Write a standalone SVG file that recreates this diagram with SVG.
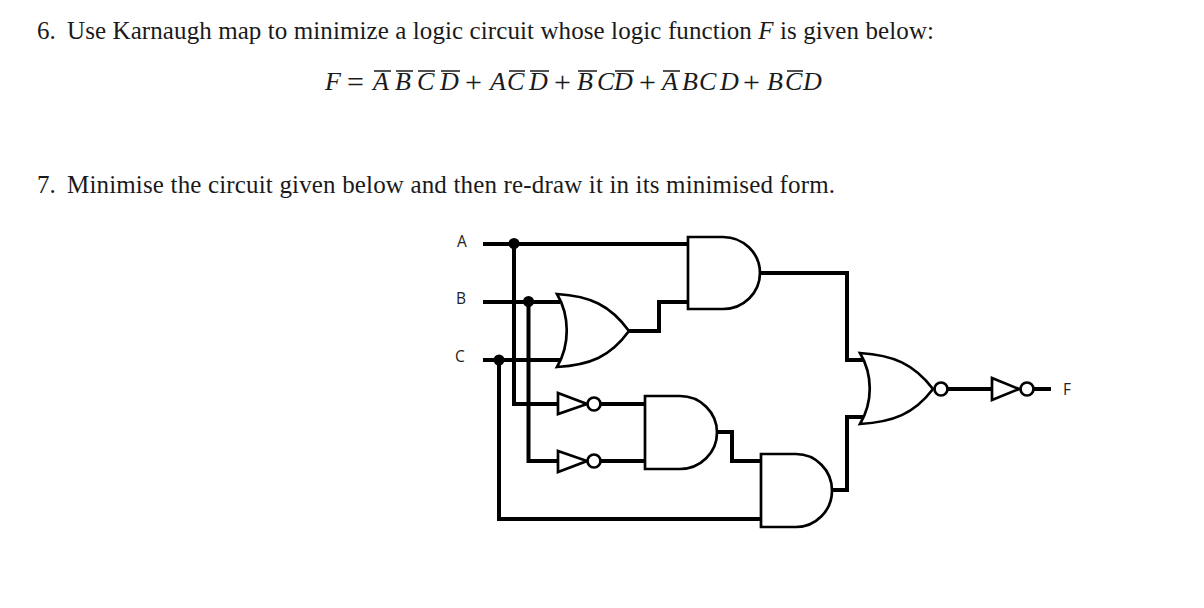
<svg xmlns="http://www.w3.org/2000/svg" width="1204" height="608" viewBox="0 0 1204 608">
<style>
.t{font-family:"Liberation Serif","Times New Roman",serif;font-size:25px;fill:#1a1a1a}
.m{font-family:"Liberation Serif","Times New Roman",serif;font-size:26px;fill:#1a1a1a}
.s{font-size:30px}
.i{font-style:italic}
.l{font-family:"Open Sans","Liberation Sans",sans-serif;font-size:15.5px;fill:#222;text-anchor:middle}
.w{fill:none;stroke:#000;stroke-width:4;stroke-linejoin:miter}
.g{fill:#fff;stroke:#000;stroke-width:2.7;stroke-linejoin:miter}
.o{stroke:#1a1a1a;stroke-width:1.3}
</style>
<rect width="1204" height="608" fill="#fff"/>
<g id="text-q6">
<text class="t" x="37" y="39">6.</text>
<text class="t" x="67" y="39" textLength="867" lengthAdjust="spacing">Use Karnaugh map to minimize a logic circuit whose logic function <tspan class="i">F</tspan> is given below:</text>
</g>
<g id="equation">
<text class="m"><tspan class="i" x="325" y="90">F</tspan><tspan class="s" x="347" y="92">=</tspan><tspan class="i" x="373 395 417 440" y="90">ABCD</tspan><tspan class="s" x="465" y="92">+</tspan><tspan class="i" x="490 507 529" y="90">ACD</tspan><tspan class="s" x="554" y="92">+</tspan><tspan class="i" x="577 597 614" y="90">BCD</tspan><tspan class="s" x="639" y="92">+</tspan><tspan class="i" x="662 682 699 720" y="90">ABCD</tspan><tspan class="s" x="743" y="92">+</tspan><tspan class="i" x="767 785 803" y="90">BCD</tspan></text>
<path class="o" d="M374 71H391M396 71H413M418 71H435M441 71H460M509 71H525M530 71H549M578 71H597M615 71H634M663 71H680M787 71H803"/>
</g>
<g id="text-q7">
<text class="t" x="37" y="193">7.</text>
<text class="t" x="67" y="193" textLength="768" lengthAdjust="spacing">Minimise the circuit given below and then re-draw it in its minimised form.</text>
</g>
<g id="connectors">
<path class="w" d="M483 244H688"/>
<path class="w" d="M483 302H560"/>
<path class="w" d="M483 360H560"/>
<path class="w" d="M514 244V404H558"/>
<path class="w" d="M528.500 302V461H558"/>
<path class="w" d="M499 360V519H761"/>
<path class="w" d="M629 331H659V302H688"/>
<path class="w" d="M600 404H645"/>
<path class="w" d="M600 461H645"/>
<path class="w" d="M717 432H732V461H761"/>
<path class="w" d="M760 273H847V360H866"/>
<path class="w" d="M832 490H847V417H866"/>
<path class="w" d="M947 389H992"/>
<path class="w" d="M1033 389H1051"/>
<circle cx="514" cy="243.500" r="5.500"/>
<circle cx="528.500" cy="301.500" r="5.500"/>
<circle cx="499" cy="360" r="5.500"/>
</g>
<g id="input-a"><text class="l" x="462" y="247">A</text></g>
<g id="input-b"><text class="l" x="461" y="304">B</text></g>
<g id="input-c"><text class="l" x="460" y="362">C</text></g>
<g id="output-f"><text class="l" x="1067" y="395">F</text></g>
<g id="and-1"><path class="g" d="M688 237H723A37 36 0 0 1 723 309H688Z"/></g>
<g id="or-1"><path class="g" d="M557 294C590 296 610 305 629 331C610 357 590 365 557 367C570 345 570 316 557 294Z"/></g>
<g id="not-1"><path class="g" d="M558 393L587 404L558 414Z"/><circle class="g" cx="594" cy="404" r="6.500"/></g>
<g id="not-2"><path class="g" d="M558 451L587 461L558 472Z"/><circle class="g" cx="594" cy="461" r="6.500"/></g>
<g id="and-2"><path class="g" d="M645 396H680A37 36.500 0 0 1 680 469H645Z"/></g>
<g id="and-3"><path class="g" d="M761 454H796A36 36.500 0 0 1 796 527H761Z"/></g>
<g id="nor-1"><path class="g" d="M860 353C893 355 914 364 933 389C914 414 893 422 860 424C873 402 873 375 860 353Z"/><circle class="g" cx="941" cy="389" r="6.500"/></g>
<g id="not-3"><path class="g" d="M992 378L1019 389L992 400Z"/><circle class="g" cx="1027" cy="389" r="6.500"/></g>
</svg>
